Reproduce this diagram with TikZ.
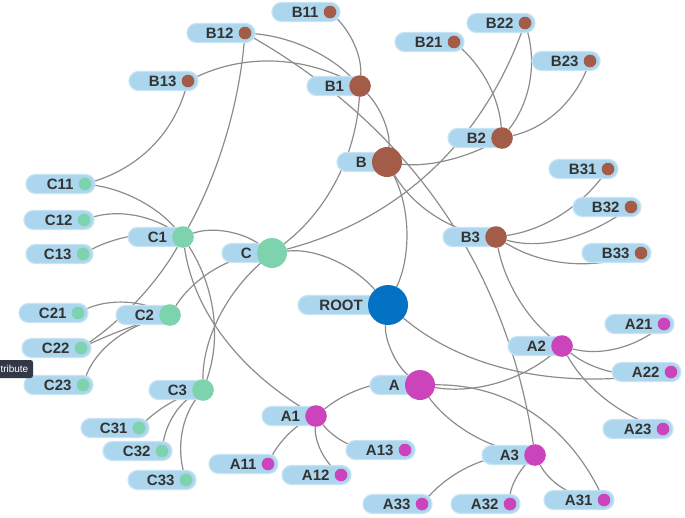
\documentclass[tikz,border=0pt]{standalone}
\usepackage{fontspec}
\setmainfont{Liberation Sans}
\usetikzlibrary{calc}
\definecolor{pillfill}{RGB}{172,214,237}
\definecolor{pilledge}{RGB}{200,228,244}
\definecolor{rootc}{RGB}{4,114,196}
\definecolor{acol}{RGB}{204,68,187}
\definecolor{bcol}{RGB}{163,92,72}
\definecolor{ccol}{RGB}{125,211,174}
\definecolor{edgec}{RGB}{140,140,140}
\definecolor{txtc}{RGB}{51,51,51}
\definecolor{tipc}{RGB}{50,56,70}
\pgfdeclarelayer{edgelayer}
\pgfdeclarelayer{pilllayer}
\pgfsetlayers{edgelayer,pilllayer,main}
\tikzset{
  pill/.style={fill=pillfill, draw=pilledge, line width=1.2pt, rounded corners=9.5pt},
  lbl/.style={inner sep=0pt, text=txtc, font=\bfseries\fontsize{15}{15}\selectfont},
  dot/.style={circle, inner sep=0pt, draw=none},
  edge/.style={draw=edgec, line width=1.2pt}
}
\newcommand\gn[7]{%
  \begin{pgfonlayer}{pilllayer}
    \path[pill] (#7,#3-9.5) rectangle (#2+10,#3+9.5);
  \end{pgfonlayer}
  \node[lbl, anchor=east] (#1-t) at (#2-#4-5,#3) {#6};
  \node[dot, minimum size={2*#4pt}, fill=#5] (#1) at (#2,#3) {};
}
\newcommand\qe[3]{\draw[edge] (#1) .. controls ($(#1)!0.6667!(#3)$) and ($(#2)!0.6667!(#3)$) .. (#2);}
\begin{document}
\begin{tikzpicture}[x=1pt,y=-1pt]
\useasboundingbox (0,0) rectangle (685,517);
\gn{ROOT}{388}{305}{20}{rootc}{ROOT}{298}
\gn{A}{420}{385}{15}{acol}{A}{370}
\gn{B}{387}{162}{15}{bcol}{B}{337}
\gn{C}{272}{253}{15}{ccol}{C}{222}
\gn{A1}{316}{416}{10.8}{acol}{A1}{262}
\gn{A2}{562}{346}{10.8}{acol}{A2}{508}
\gn{A3}{535}{455}{10.8}{acol}{A3}{482}
\gn{A11}{268}{464}{6.3}{acol}{A11}{209}
\gn{A12}{341}{475}{6.3}{acol}{A12}{282}
\gn{A13}{405}{450}{6.3}{acol}{A13}{346}
\gn{A21}{664}{324}{6.3}{acol}{A21}{605}
\gn{A22}{671}{372}{6.3}{acol}{A22}{612}
\gn{A23}{663}{429}{6.3}{acol}{A23}{603}
\gn{A31}{604}{500}{6.3}{acol}{A31}{544}
\gn{A32}{510}{504}{6.3}{acol}{A32}{451}
\gn{A33}{422}{504}{6.3}{acol}{A33}{363}
\gn{B1}{360}{86}{10.8}{bcol}{B1}{307}
\gn{B2}{502}{138}{10.8}{bcol}{B2}{448}
\gn{B3}{496}{237}{10.8}{bcol}{B3}{443}
\gn{B11}{330}{12}{6.3}{bcol}{B11}{272}
\gn{B12}{245}{33}{6.3}{bcol}{B12}{187}
\gn{B13}{188}{81}{6.3}{bcol}{B13}{129}
\gn{B21}{454}{42}{6.3}{bcol}{B21}{395}
\gn{B22}{525}{23}{6.3}{bcol}{B22}{467}
\gn{B23}{590}{61}{6.3}{bcol}{B23}{532}
\gn{B31}{608}{169}{6.3}{bcol}{B31}{549}
\gn{B32}{631}{207}{6.3}{bcol}{B32}{573}
\gn{B33}{641}{253}{6.3}{bcol}{B33}{582}
\gn{C1}{183}{237}{10.8}{ccol}{C1}{128}
\gn{C2}{170}{315}{10.8}{ccol}{C2}{116}
\gn{C3}{203}{390}{10.8}{ccol}{C3}{149}
\gn{C11}{85}{184}{6.3}{ccol}{C11}{26}
\gn{C12}{84}{220}{6.3}{ccol}{C12}{24}
\gn{C13}{83}{254}{6.3}{ccol}{C13}{26}
\gn{C21}{78}{313}{6.3}{ccol}{C21}{19}
\gn{C22}{81}{348}{6.3}{ccol}{C22}{22}
\gn{C23}{83}{385}{6.3}{ccol}{C23}{24}
\gn{C31}{139}{428}{6.3}{ccol}{C31}{81}
\gn{C32}{162}{451}{6.3}{ccol}{C32}{103}
\gn{C33}{186}{480}{6.3}{ccol}{C33}{128}
\begin{pgfonlayer}{edgelayer}
\qe{ROOT}{B}{422.5,232.5}
\qe{ROOT}{C}{336,245}
\qe{ROOT}{A}{382,353.8}
\qe{ROOT}{A22}{500,400}
\qe{A}{A1}{364,376.5}
\qe{A}{A2}{500,398.5}
\qe{A}{A3}{462.5,444}
\qe{A}{A31}{548,383.5}
\qe{A1}{A11}{283.6,431.6}
\qe{A1}{A12}{313.5,451.7}
\qe{A1}{A13}{350.5,459}
\qe{A1}{C1}{198.5,345.5}
\qe{A2}{A21}{617,361}
\qe{A2}{A22}{607.5,383}
\qe{A2}{A23}{595.5,406.5}
\qe{A2}{B3}{509,304.5}
\qe{A3}{A31}{556.5,496.5}
\qe{A3}{A32}{509.5,480.5}
\qe{A3}{A33}{466.5,452.5}
\qe{B12}{A3}{492,174}
\qe{B11}{B1}{363,43}
\qe{B12}{B1}{312.5,37.7}
\qe{B13}{B1}{270,40.5}
\qe{B1}{B}{392.5,120}
\qe{C}{B1}{354,190.5}
\qe{C}{B22}{459.5,204}
\qe{B}{B2}{443.5,170}
\qe{B}{B3}{424.5,226.5}
\qe{B21}{B2}{498,80}
\qe{B22}{B2}{543.5,85.5}
\qe{B23}{B2}{566,123.5}
\qe{B31}{B3}{566,227}
\qe{B32}{B3}{560.5,256}
\qe{B33}{B3}{563.5,279}
\qe{C11}{C1}{144,191.5}
\qe{C12}{C1}{132.5,203.5}
\qe{C13}{C1}{130,228}
\qe{C1}{C}{226.5,221}
\qe{C1}{B12}{236,141}
\qe{C1}{C22}{145,304.7}
\qe{C1}{C3}{231,312.5}
\qe{C}{C2}{205,260}
\qe{C}{C3}{202.5,314.5}
\qe{C21}{C2}{120,292}
\qe{C2}{C22}{125,327}
\qe{C23}{C2}{99.5,334}
\qe{C31}{C3}{165,401}
\qe{C32}{C3}{167.5,409.5}
\qe{C33}{C3}{171.5,431}
\qe{B13}{C11}{165.5,160.5}
\end{pgfonlayer}
\path[fill=tipc, rounded corners=2.5pt] (-6,360) rectangle (33,378);
\node[inner sep=0pt, text=white, font=\fontsize{10}{10}\selectfont, anchor=east] (tip) at (28.5,369) {tribute};
\end{tikzpicture}
\end{document}
